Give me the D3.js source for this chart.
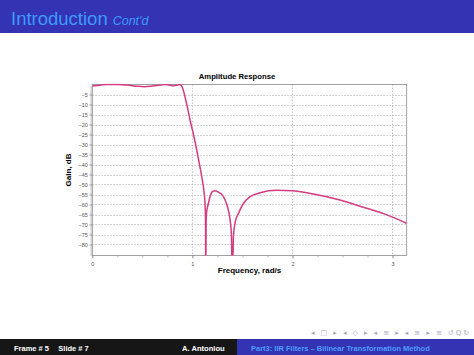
<!DOCTYPE html>
<html><head><meta charset="utf-8">
<script src="https://cdn.jsdelivr.net/npm/d3@7"></script>
<style>body{margin:0;background:#fff;}svg{display:block;font-family:"Liberation Sans",Arial,sans-serif;}</style>
</head><body>
<svg id="c" width="474" height="355"></svg>
<script>
const freq = [0,0.05,0.1,0.15,0.25,0.3,0.35,0.45,0.52,0.6,0.68,0.74,0.78,0.81,0.84,0.87,0.89,0.91,0.944,0.98,1.02,1.05,1.077,1.1,1.115,1.125,1.131,1.134,1.137,1.142,1.16,1.177,1.195,1.21,1.235,1.26,1.31,1.35,1.377,1.39,1.40,1.41,1.427,1.46,1.51,1.577,1.677,1.843,1.994,2.21,2.444,2.71,2.944,3.1416];
const gain = [-0.8,-0.5,-0.1,0,0,-0.1,-0.3,-0.9,-1.1,-0.8,-0.3,0,-0.4,-0.6,-0.4,0,-0.5,-3,-10,-18.5,-27,-34.5,-41.5,-48,-53,-58.5,-67,-100,-70,-64,-59.5,-56,-53.8,-53.2,-53.2,-53.8,-56,-61,-67.7,-75,-100,-76,-69,-64.5,-59.5,-56.1,-54.1,-52.9,-53.1,-54.8,-57.4,-61.4,-65.2,-69.4];
const yTicks = [-5,-10,-15,-20,-25,-30,-35,-40,-45,-50,-55,-60,-65,-70,-75,-80];
const xTicks = [0,1,2,3];
const xDomain = [0, Math.PI];
const yDomain = [0, -85.5];
const title = "Introduction";
const subtitle = "Cont'd";
const chartTitle = "Amplitude Response";
const xLabel = "Frequency, rad/s";
const yLabel = "Gain, dB";
const footLeft1 = "Frame # 5", footLeft2 = "Slide # 7", footMid = "A. Antoniou";
const footRight = "Part3: IIR Filters \u2013 Bilinear Transformation Method";

const svg = d3.select("#c");
// header
svg.append("rect").attr("x",0).attr("y",0).attr("width",474).attr("height",33).attr("fill","#3333b3");
const tt = svg.append("text").attr("x",11).attr("y",25).attr("fill","#3d9bff");
tt.append("tspan").attr("font-size",18.5).text(title);
tt.append("tspan").attr("font-size",12.5).attr("font-style","italic").attr("dx",5).text(subtitle);

// chart
const L=92.3,R=406.7,T=84.5,B=255.5;
const x = d3.scaleLinear().domain(xDomain).range([L,R]);
const y = d3.scaleLinear().domain(yDomain).range([T,B]);
const g = svg.append("g");
// grid
g.append("g").selectAll("line").data(yTicks).join("line")
  .attr("x1",L).attr("x2",R).attr("y1",d=>Math.round(y(d))+0.5).attr("y2",d=>Math.round(y(d))+0.5)
  .attr("stroke","#b8b8b8").attr("stroke-width",0.8).attr("stroke-dasharray","1.5,1.5");
g.append("g").selectAll("line").data(xTicks.filter(d=>d>0)).join("line")
  .attr("x1",d=>x(d)).attr("x2",d=>x(d)).attr("y1",T).attr("y2",B)
  .attr("stroke","#b8b8b8").attr("stroke-width",0.8).attr("stroke-dasharray","1.5,1.5");
// axes
const yAxis = d3.axisLeft(y).tickValues(d3.range(-1,-86,-1)).tickSize(2).tickFormat("");
const ya = g.append("g").attr("transform",`translate(${L},0)`).call(yAxis);
ya.selectAll("line").attr("stroke","#888").attr("stroke-width",0.6);
ya.select(".domain").remove();
const yMaj = d3.axisLeft(y).tickValues(yTicks).tickSize(3).tickPadding(1.5).tickFormat(d3.format("d"));
const ym = g.append("g").attr("transform",`translate(${L},0)`).call(yMaj);
ym.select(".domain").remove();
ym.selectAll("line").attr("stroke","#777").attr("stroke-width",0.6);
ym.selectAll("text").attr("font-size",5.5).attr("fill","#555").attr("font-family","Liberation Sans, Arial");
const xAxis = d3.axisBottom(x).tickValues(d3.range(0,3.2,0.25)).tickSize(2).tickFormat("");
const xa = g.append("g").attr("transform",`translate(0,${B})`).call(xAxis);
xa.select(".domain").remove();
xa.selectAll("line").attr("stroke","#888").attr("stroke-width",0.6);
const xMaj = d3.axisBottom(x).tickValues(xTicks).tickSize(3).tickPadding(4).tickFormat(d3.format("d"));
const xm = g.append("g").attr("transform",`translate(0,${B})`).call(xMaj);
xm.select(".domain").remove();
xm.selectAll("line").attr("stroke","#777").attr("stroke-width",0.6);
xm.selectAll("text").attr("font-size",5.5).attr("fill","#555").attr("font-family","Liberation Sans, Arial");
// border
g.append("rect").attr("x",L).attr("y",T).attr("width",R-L).attr("height",B-T)
  .attr("fill","none").attr("stroke","#8a8a8a").attr("stroke-width",0.8);
// curve
svg.append("clipPath").attr("id","clp").append("rect").attr("x",L).attr("y",T-1).attr("width",R-L).attr("height",B-T+1);
const data = freq.map((f,i)=>[f,gain[i]]);
g.append("path").datum(data).attr("clip-path","url(#clp)")
  .attr("d",d3.line().x(d=>x(d[0])).y(d=>y(d[1])).curve(d3.curveMonotoneX))
  .attr("fill","none").attr("stroke","#d63a80").attr("stroke-width",1.5);
// labels
svg.append("text").attr("x",237).attr("y",79).attr("text-anchor","middle").attr("font-size",7.7).attr("font-weight","bold").text(chartTitle);
svg.append("text").attr("x",(L+R)/2).attr("y",273).attr("text-anchor","middle").attr("font-size",8).attr("font-weight","bold").text(xLabel);
svg.append("text").attr("transform","translate(70.5,170) rotate(-90)").attr("text-anchor","middle").attr("font-size",8).attr("font-weight","bold").text(yLabel);

// nav symbols
svg.append("text").attr("x",311).attr("y",335).attr("font-size",7).attr("fill","#a8a8c0")
  .attr("font-family","DejaVu Sans").attr("textLength",158).attr("lengthAdjust","spacing")
  .text("\u25C2 \u25A1 \u25B8  \u25C2 \u25C7 \u25B8  \u25C2 \u2261 \u25B8  \u25C2 \u2261 \u25B8    \u2261    \u21BA\u0051\u21BB");
// footer
svg.append("rect").attr("x",0).attr("y",339).attr("width",237).attr("height",16).attr("fill","#161616");
svg.append("rect").attr("x",237).attr("y",339).attr("width",237).attr("height",16).attr("fill","#3333b3");
svg.append("text").attr("x",14).attr("y",350.5).attr("font-size",7.5).attr("font-weight","bold").attr("fill","#fff").text(footLeft1);
svg.append("text").attr("x",58.3).attr("y",350.5).attr("font-size",7.5).attr("font-weight","bold").attr("fill","#fff").text(footLeft2);
svg.append("text").attr("x",182).attr("y",350.5).attr("font-size",7.6).attr("font-weight","bold").attr("fill","#fff").text(footMid);
svg.append("text").attr("x",251).attr("y",350.5).attr("font-size",7.5).attr("font-weight","bold").attr("fill","#4d9dff").text(footRight);
</script>
</body></html>
